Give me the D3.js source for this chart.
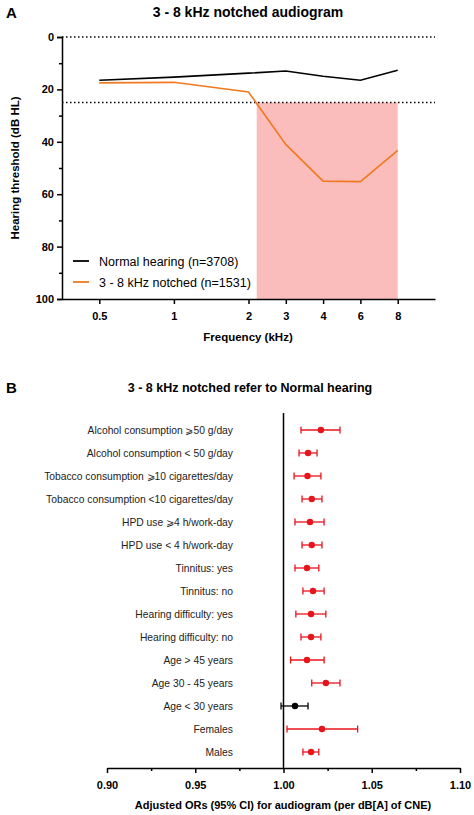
<!DOCTYPE html><html><head><meta charset="utf-8"><script src="https://cdn.jsdelivr.net/npm/d3@7"></script>
<style>body{margin:0;background:#fff}text{font-family:Arial,"Liberation Sans",sans-serif}</style></head><body><svg id="c" width="474" height="815"></svg>
<script>
const freqs=["0.5","1","2","3","4","6","8"];
const freqDomain=["0.5","g1","1","g2","2","3","4","6","8"];
const normal=[16.5,15.3,13.8,13,15,16.5,12.7];
const notched=[17.5,17.3,21,41,55,55.2,43.3];
const yTicksA=[0,20,40,60,80,100];
const cats=["Alcohol consumption \u2a7e50 g/day","Alcohol consumption < 50 g/day","Tobacco consumption \u2a7e10 cigarettes/day","Tobacco consumption <10 cigarettes/day","HPD use \u2a7e4 h/work-day","HPD use < 4 h/work-day","Tinnitus: yes","Tinnitus: no","Hearing difficulty: yes","Hearing difficulty: no","Age > 45 years","Age 30 - 45 years","Age < 30 years","Females","Males"];
const orVal=[1.0212,1.0139,1.0136,1.016,1.015,1.016,1.0133,1.0167,1.0156,1.0156,1.0133,1.024,1.0065,1.0218,1.0156];
const orLo=[1.0099,1.0088,1.006,1.0105,1.0065,1.0105,1.0065,1.011,1.007,1.0099,1.004,1.016,0.9986,1.002,1.011];
const orHi=[1.032,1.019,1.0212,1.0218,1.023,1.0218,1.020,1.023,1.024,1.0212,1.023,1.032,1.0139,1.042,1.020];
const signif=[1,1,1,1,1,1,1,1,1,1,1,1,0,1,1];
const xTicksB=[0.90,0.95,1.00,1.05,1.10];

const svg=d3.select("#c");
// Panel A
const x=d3.scalePoint().domain(freqDomain).range([62,435]).padding(1);
const y=d3.scaleLinear().domain([0,100]).range([37,299]);
svg.append("text").attr("x",6).attr("y",18).attr("font-size",15).attr("font-weight","bold").text("A");
svg.append("text").attr("x",248).attr("y",17).attr("text-anchor","middle").attr("font-size",14).attr("font-weight","bold").text("3 - 8 kHz notched audiogram");
const step=x.step();
svg.append("rect").attr("x",x("2")+0.22*step).attr("y",y(25)).attr("width",x("8")-x("2")-0.22*step).attr("height",y(100)-y(25)).attr("fill","#fbbcbc");
[0,25].forEach(v=>svg.append("line").attr("x1",62).attr("x2",435).attr("y1",y(v)).attr("y2",y(v)).attr("stroke","#000").attr("stroke-width",1.3).attr("stroke-dasharray","1.5,2.5"));
const ya=svg.append("g").attr("transform","translate(62,0)").call(d3.axisLeft(y).tickValues(d3.range(0,101,10)).tickSize(5).tickFormat(d=>yTicksA.includes(d)?d:""));
ya.selectAll(".tick line").attr("x2",d=>yTicksA.includes(d)?-5:-3);
const xa=svg.append("g").attr("transform","translate(0,299)").call(d3.axisBottom(x).tickValues(freqs).tickSize(5).tickSizeOuter(0));
[ya,xa].forEach(g=>{g.select(".domain").attr("stroke-width",1.5);g.selectAll("line").attr("stroke-width",1.5);g.selectAll("text").attr("font-size",11).attr("font-weight","bold").attr("fill","#000")});
xa.selectAll("text").attr("dy","1.2em");
svg.append("text").attr("transform","translate(19,168) rotate(-90)").attr("text-anchor","middle").attr("font-size",11.5).attr("font-weight","bold").text("Hearing threshold (dB HL)");
svg.append("text").attr("x",248).attr("y",341).attr("text-anchor","middle").attr("font-size",11.5).attr("font-weight","bold").text("Frequency (kHz)");
const line=d3.line().x((d,i)=>x(freqs[i])).y(d=>y(d));
svg.append("path").attr("d",line(normal)).attr("fill","none").attr("stroke","#000").attr("stroke-width",1.6);
svg.append("path").attr("d",line(notched)).attr("fill","none").attr("stroke","#f07a20").attr("stroke-width",1.6);
[["Normal hearing (n=3708)","#000",261],["3 - 8 kHz notched (n=1531)","#f07a20",282]].forEach(([t,c,yy])=>{
 svg.append("line").attr("x1",73).attr("x2",89).attr("y1",yy).attr("y2",yy).attr("stroke",c).attr("stroke-width",1.8);
 svg.append("text").attr("x",99).attr("y",yy+4.5).attr("font-size",12.5).text(t);});
// Panel B
svg.append("text").attr("x",6).attr("y",393).attr("font-size",15).attr("font-weight","bold").text("B");
svg.append("text").attr("x",250).attr("y",392).attr("text-anchor","middle").attr("font-size",12.5).attr("font-weight","bold").text("3 - 8 kHz notched refer to Normal hearing");
const xb=d3.scaleLinear().domain([0.9,1.1]).range([107,460]);
const yb=d3.scalePoint().domain(cats).range([430,752]);
const xba=svg.append("g").attr("transform","translate(0,768)").call(d3.axisBottom(xb).tickValues(d3.range(0,9).map(i=>0.9+i*0.025)).tickSize(5).tickSizeOuter(0).tickFormat(d=>xTicksB.some(t=>Math.abs(t-d)<1e-9)?d3.format(".2f")(d):""));
xba.selectAll(".tick line").attr("y2",(d,i)=>i%2?3:5);
xba.select(".domain").attr("stroke-width",1.5);xba.selectAll("line").attr("stroke-width",1.5);
xba.selectAll("text").attr("font-size",11).attr("font-weight","bold").attr("fill","#000").attr("dy","1.2em");
svg.append("line").attr("x1",xb(1)).attr("x2",xb(1)).attr("y1",413).attr("y2",768).attr("stroke","#000").attr("stroke-width",1.5);
svg.append("text").attr("x",283).attr("y",809).attr("text-anchor","middle").attr("font-size",11).attr("font-weight","bold").text("Adjusted ORs (95% CI) for audiogram (per dB[A] of CNE)");
const g=svg.append("g");
cats.forEach((c,i)=>{
 const yy=yb(c),col=signif[i]?"#e8141c":"#000";
 g.append("text").attr("x",233).attr("y",yy+4).attr("text-anchor","end").attr("font-size",10.3).attr("fill","#222").text(c);
 g.append("line").attr("x1",xb(orLo[i])).attr("x2",xb(orHi[i])).attr("y1",yy).attr("y2",yy).attr("stroke",col).attr("stroke-width",1.3);
 [orLo[i],orHi[i]].forEach(v=>g.append("line").attr("x1",xb(v)).attr("x2",xb(v)).attr("y1",yy-3.5).attr("y2",yy+3.5).attr("stroke",col).attr("stroke-width",1.3));
 g.append("circle").attr("cx",xb(orVal[i])).attr("cy",yy).attr("r",3.2).attr("fill",col);
});
</script></body></html>
